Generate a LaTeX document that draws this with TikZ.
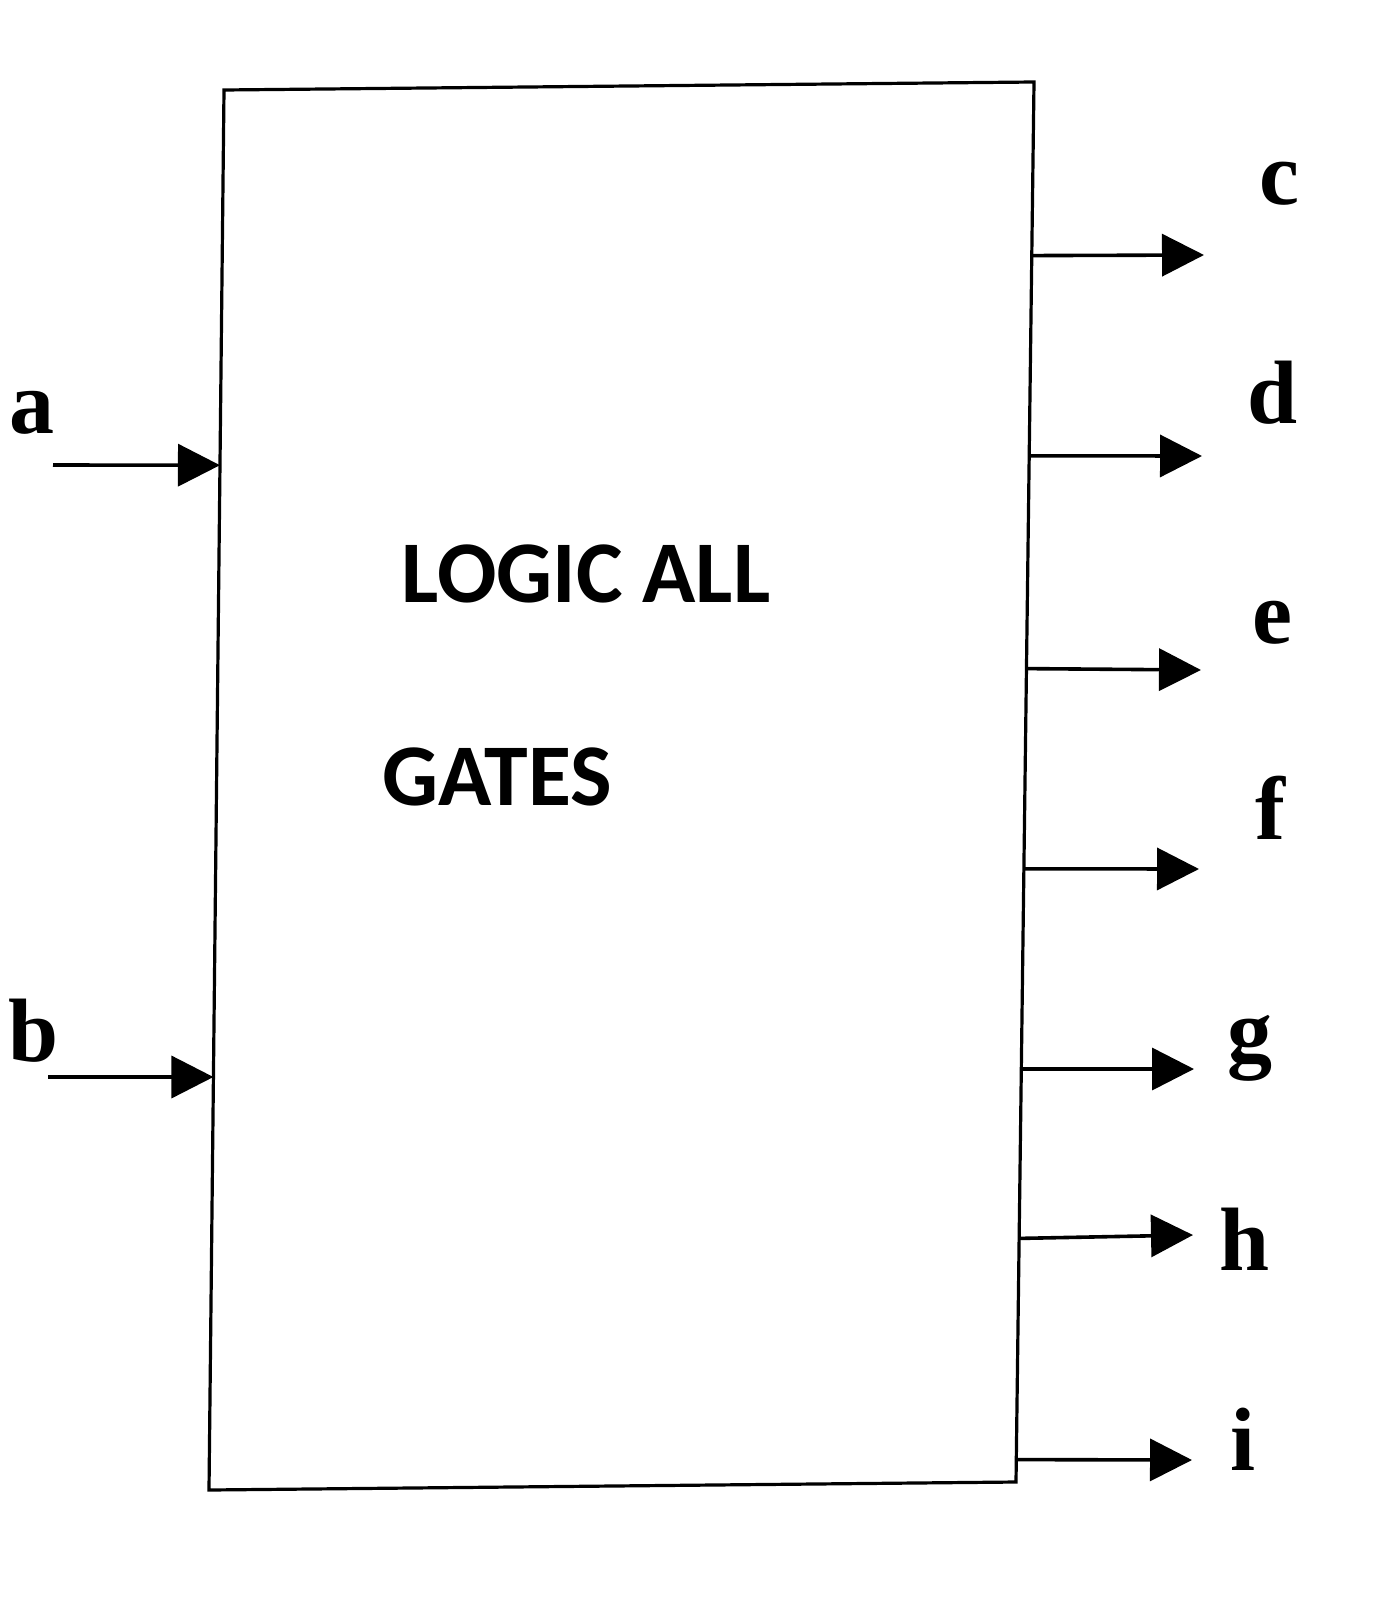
\documentclass[tikz,border=0pt]{standalone}
\usepackage{fontspec}
\setmainfont{Liberation Serif}
\newfontfamily\gatefont{Carlito}
\usetikzlibrary{arrows.meta, positioning, calc}
\tikzstyle{pin} = [font=\bfseries\fontsize{45}{45}\selectfont, anchor=base, inner sep=0pt]
\tikzstyle{title} = [font=\gatefont\bfseries\fontsize{44}{44}\selectfont, anchor=base, inner sep=0pt]
\tikzstyle{arrow} = [line width=1.8pt, -{Triangle[length=21pt,width=21pt]}]
\tikzstyle{block} = [line width=1.6pt]

\begin{document}
\begin{tikzpicture}[x=0.5pt, y=-0.5pt]
\useasboundingbox (0,0) rectangle (1398,1600);

% Block outline
\coordinate (tl) at (224,90);
\coordinate (tr) at (1034,82);
\coordinate (br) at (1016,1482);
\coordinate (bl) at (209,1490);
\draw [block] (tl) -- (tr) -- (br) -- (bl) -- cycle;

% Block title
\node (title1) [title] at (586,602) {LOGIC ALL};
\node (title2) [title] at (497,805) {GATES};

% Inputs
\coordinate (a_in) at (53,465);
\coordinate (b_in) at (48,1077);
\coordinate (a_end) at ($(tl)!0.268!(bl)$);
\coordinate (b_end) at ($(tl)!0.705!(bl)$);
\draw [arrow] (a_in) -- (a_end);
\draw [arrow] (b_in) -- (b_end);
\node (lbl_a) [pin] at (32,433) {a};
\node (lbl_b) [pin] at (34,1061) {b};

% Outputs
\coordinate (c_out) at ($(tr)!0.124!(br)$);
\coordinate (d_out) at ($(tr)!0.267!(br)$);
\coordinate (e_out) at ($(tr)!0.419!(br)$);
\coordinate (f_out) at ($(tr)!0.562!(br)$);
\coordinate (g_out) at ($(tr)!0.705!(br)$);
\coordinate (h_out) at ($(tr)!0.826!(br)$);
\coordinate (i_out) at ($(tr)!0.984!(br)$);
\coordinate (c_end) at (1204,255);
\coordinate (d_end) at (1202,456);
\coordinate (e_end) at (1201,670);
\coordinate (f_end) at (1199,869);
\coordinate (g_end) at (1194,1069);
\coordinate (h_end) at (1193,1235);
\coordinate (i_end) at (1192,1460);
\foreach \p in {c,d,e,f,g,h,i}
  \draw [arrow] (\p_out) -- (\p_end);

% Output labels
\node (lbl_c) [pin] at (1279,204) {c};
\node (lbl_d) [pin] at (1273,423) {d};
\node (lbl_e) [pin] at (1272,643) {e};
\node (lbl_f) [pin] at (1270,839) {f};
\node (lbl_g) [pin] at (1250,1061) {g};
\node (lbl_h) [pin] at (1245,1270) {h};
\node (lbl_i) [pin] at (1243,1470) {i};

\end{tikzpicture}
\end{document}
